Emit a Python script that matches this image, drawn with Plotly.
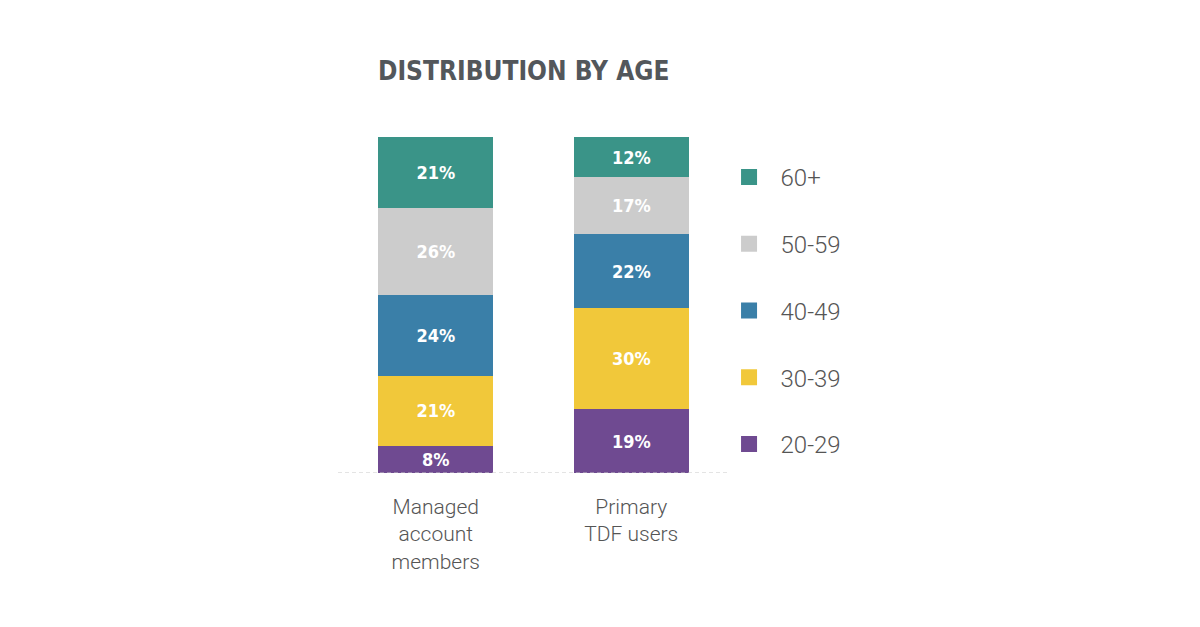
import plotly.graph_objects as go

# Data
groups = ["Managed<br>account<br>members", "Primary<br>TDF users"]
age_bands = ["20-29", "30-39", "40-49", "50-59", "60+"]
managed_pct = [8, 21, 24, 26, 21]
primary_pct = [19, 30, 22, 17, 12]
band_colors = ["#6f4a91", "#f1c83a", "#3a7fa8", "#cccccc", "#3a9488"]

cond_font = "DejaVu Sans Condensed, sans-serif"
text_font = "Roboto, Helvetica Neue, Arial, sans-serif"

fig = go.Figure()
for i, band in enumerate(age_bands):
    fig.add_trace(
        go.Bar(
            x=groups,
            y=[managed_pct[i], primary_pct[i]],
            name=band,
            marker_color=band_colors[i],
            marker_line_width=0,
            texttemplate="%{y}%",
            textposition="inside",
            insidetextanchor="middle",
            constraintext="none",
            textangle=0,
            textfont=dict(family=cond_font, size=18, color="white", weight="bold"),
            showlegend=False,
            hoverinfo="skip",
        )
    )
    # legend entries with square swatches, oldest band on top
    fig.add_trace(
        go.Scatter(
            x=[None],
            y=[None],
            mode="markers",
            name=band,
            legendgroup=band,
            legendrank=len(age_bands) - i,
            marker=dict(symbol="square", size=19, color=band_colors[i]),
        )
    )

# dashed baseline
fig.add_shape(
    type="line",
    xref="paper",
    yref="y",
    x0=0,
    x1=1.0,
    y0=0,
    y1=0,
    line=dict(color="#c8c8c8", width=1, dash="4px,3px"),
)

fig.update_layout(
    width=1200,
    height=627,
    barmode="stack",
    bargap=0.413,
    plot_bgcolor="white",
    paper_bgcolor="white",
    margin=dict(l=329.5, r=478.5, t=129, b=161.5),
    title=dict(
        text="DISTRIBUTION BY AGE",
        xref="container",
        yref="container",
        x=370 / 1200,
        xanchor="left",
        y=1 - 54 / 627,
        yanchor="top",
        font=dict(family=cond_font, size=26, color="#53575b", weight="bold"),
    ),
    xaxis=dict(
        showgrid=False,
        zeroline=False,
        showline=False,
        ticks="",
        tickfont=dict(family=text_font, size=21, color="#555555", weight=300),
        ticklabelstandoff=19,
    ),
    yaxis=dict(
        range=[0, 100],
        visible=False,
    ),
    legend=dict(
        traceorder="grouped",
        xref="paper",
        yref="paper",
        x=0.9707,
        xanchor="left",
        y=0.9465,
        yanchor="top",
        tracegroupgap=32.5,
        itemwidth=53,
        font=dict(family=text_font, size=24, color="#555555", weight=300),
    ),
    showlegend=True,
)

fig.write_html("out.html")
